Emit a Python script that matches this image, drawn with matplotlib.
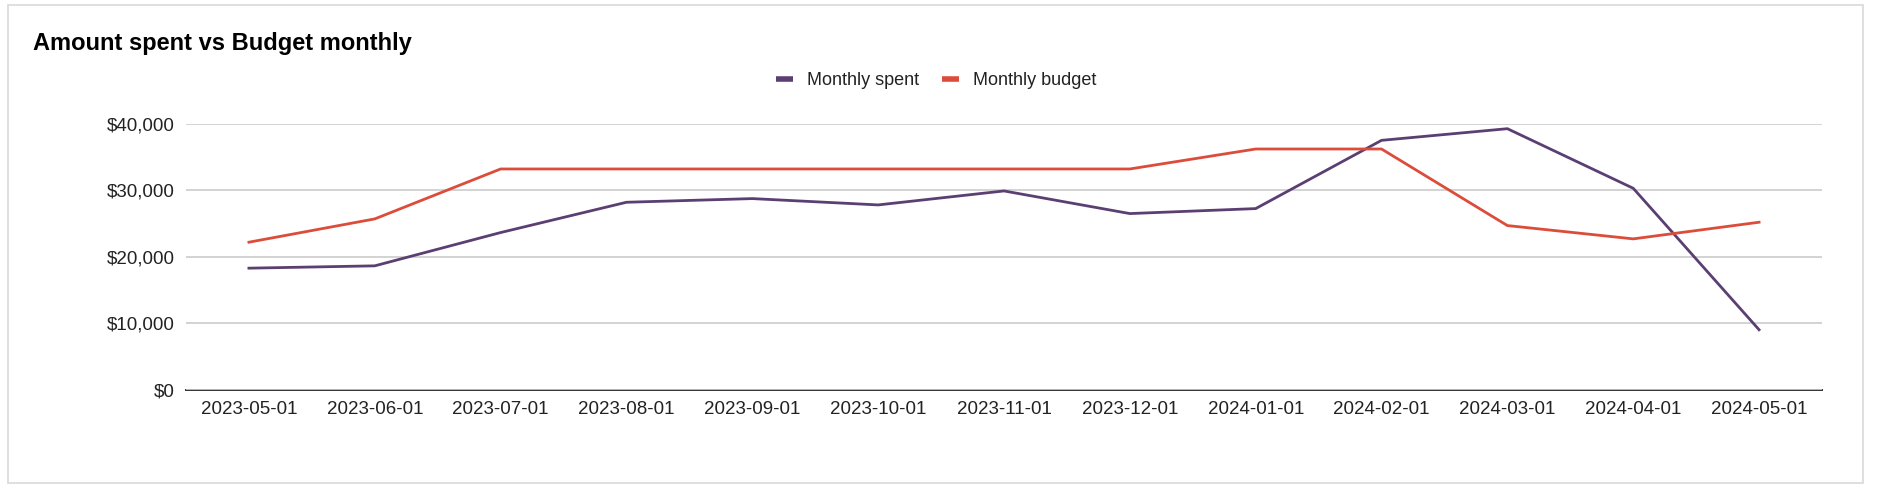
import matplotlib
matplotlib.use("Agg")
import matplotlib.pyplot as plt
from matplotlib.patches import Rectangle
from matplotlib.ticker import FuncFormatter

# data
months = ["2023-05-01", "2023-06-01", "2023-07-01", "2023-08-01", "2023-09-01",
          "2023-10-01", "2023-11-01", "2023-12-01", "2024-01-01", "2024-02-01",
          "2024-03-01", "2024-04-01", "2024-05-01"]
monthly_spent = [18300, 18650, 23650, 28200, 28750, 27800, 29900, 26500,
                 27250, 37500, 39250, 30300, 9050]
monthly_budget = [22200, 25700, 33200, 33200, 33200, 33200, 33200, 33200,
                  36200, 36200, 24700, 22700, 25200]
y_ticks = [0, 10000, 20000, 30000, 40000]

plt.rcParams["font.family"] = ["Liberation Sans", "DejaVu Sans"]

fig = plt.figure(figsize=(18.82, 4.95), dpi=100)

# light frame around the whole card
fig.patches.append(Rectangle((8 / 1882, 1 - 483 / 495), (1863 - 8) / 1882, (483 - 5) / 495,
                             transform=fig.transFigure, fill=False,
                             edgecolor="#d9d9d9", linewidth=1.2))

ax = fig.add_axes([186 / 1882, 105 / 495, (1822 - 186) / 1882, (390 - 123.7) / 495])

x = list(range(len(months)))
ax.plot(x, monthly_spent, color="#5b3f73", linewidth=2.0, label="Monthly spent",
        clip_on=False, solid_joinstyle="miter")
ax.plot(x, monthly_budget, color="#dc4c3a", linewidth=2.0, label="Monthly budget",
        clip_on=False, solid_joinstyle="miter")

ax.set_xlim(-0.5, len(months) - 0.5)
ax.set_ylim(0, 40000)
ax.set_yticks(y_ticks)
ax.yaxis.set_major_formatter(FuncFormatter(lambda v, p: "${:,.0f}".format(v)))
ax.set_xticks(x)
ax.set_xticklabels(months)

ax.grid(axis="y", color="#cccccc", linewidth=1.2)
ax.set_axisbelow(True)
for s in ["top", "right", "left"]:
    ax.spines[s].set_visible(False)
ax.spines["bottom"].set_color("#333333")
ax.spines["bottom"].set_linewidth(1.4)
ax.spines["bottom"].set_zorder(0.5)

ax.tick_params(axis="both", length=0, labelsize=13.5, labelcolor="#222222")
ax.tick_params(axis="y", pad=8)
ax.tick_params(axis="x", pad=8)

fig.text(33 / 1882, 1 - 50 / 495, "Amount spent vs Budget monthly",
         fontsize=17, fontweight="bold", color="#000000", va="baseline")

leg = fig.legend(loc="center", bbox_to_anchor=(936 / 1882, 1 - 80.5 / 495), ncol=2,
                 frameon=False, fontsize=13, handlelength=0.95, handletextpad=0.75,
                 columnspacing=1.3)
for line in leg.get_lines():
    line.set_linewidth(4)
    line.set_solid_capstyle("butt")
for t in leg.get_texts():
    t.set_color("#222222")

fig.savefig("out.png", dpi=100)
